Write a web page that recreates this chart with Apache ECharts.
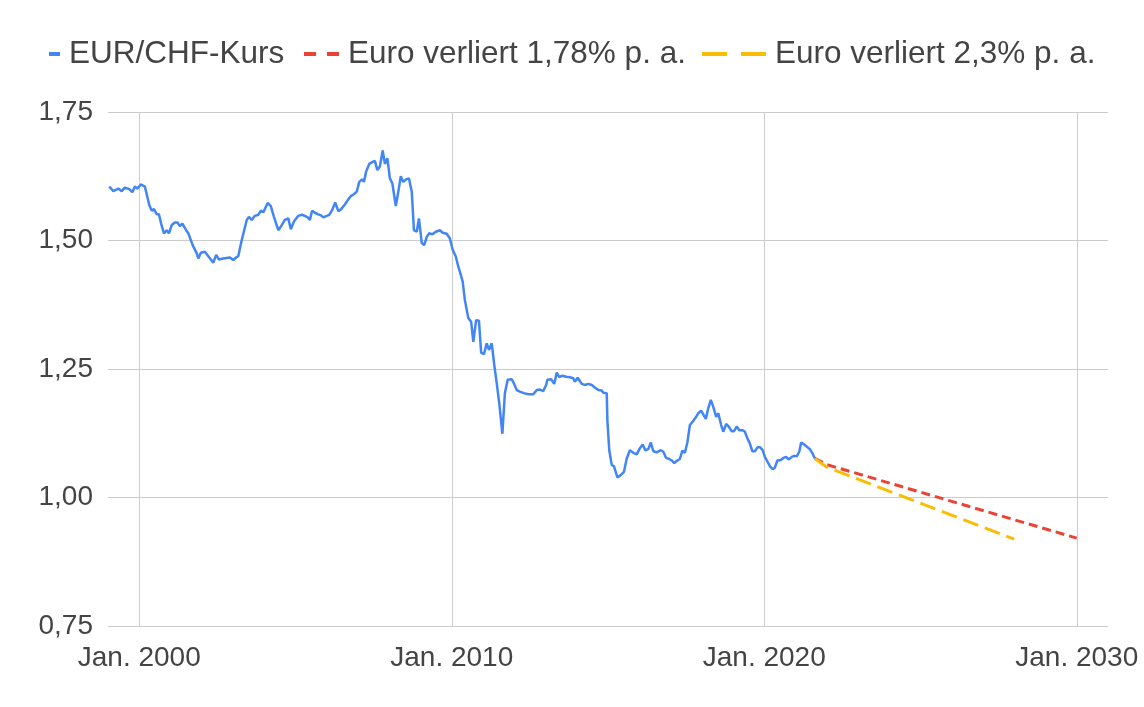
<!DOCTYPE html>
<html>
<head>
<meta charset="utf-8">
<script src="https://cdn.jsdelivr.net/npm/echarts@6/dist/echarts.min.js"></script>
<style>
html,body{margin:0;padding:0;background:#fff;}
#chart{width:1144px;height:707px;}
</style>
</head>
<body>
<div id="chart"></div>
<script>
// ---- data ----
const xTickYears = [2000, 2010, 2020, 2030];
const yTicks = [0.75, 1.00, 1.25, 1.50, 1.75];

const seriesNames = ['EUR/CHF-Kurs', 'Euro verliert 1,78% p. a.', 'Euro verliert 2,3% p. a.'];

// EUR/CHF (decimal years)
const kursYears = [
 1999.04,1999.17,1999.33,1999.44,1999.54,1999.68,1999.78,1999.86,1999.94,2000.05,
 2000.18,2000.32,2000.40,2000.47,2000.56,2000.63,2000.70,2000.79,2000.88,2000.95,
 2001.04,2001.14,2001.22,2001.30,2001.38,2001.50,2001.57,2001.62,2001.71,2001.84,
 2001.89,2001.97,2002.10,2002.16,2002.24,2002.37,2002.46,2002.55,2002.69,2002.90,
 2003.01,2003.10,2003.17,2003.28,2003.44,2003.51,2003.60,2003.70,2003.81,2003.89,
 2003.97,2004.11,2004.21,2004.31,2004.45,2004.56,2004.66,2004.77,2004.85,2004.95,
 2005.09,2005.20,2005.30,2005.39,2005.46,2005.53,2005.62,2005.73,2005.81,2005.89,
 2006.00,2006.08,2006.17,2006.27,2006.37,2006.46,2006.58,2006.69,2006.78,2006.87,
 2006.96,2007.04,2007.14,2007.19,2007.26,2007.36,2007.47,2007.54,2007.62,2007.70,
 2007.79,2007.86,2007.94,2008.02,2008.10,2008.21,2008.29,2008.37,2008.45,2008.54,
 2008.63,2008.72,2008.79,2008.88,2008.95,2009.04,2009.12,2009.20,2009.28,2009.38,
 2009.49,2009.62,2009.71,2009.84,2009.94,2010.03,2010.13,2010.21,2010.29,2010.35,
 2010.42,2010.53,2010.62,2010.69,2010.78,2010.87,2010.94,2011.03,2011.12,2011.19,
 2011.28,2011.36,2011.44,2011.52,2011.62,2011.70,2011.79,2011.92,2011.99,2012.08,
 2012.18,2012.31,2012.45,2012.61,2012.72,2012.82,2012.93,2013.02,2013.06,2013.18,
 2013.28,2013.36,2013.44,2013.54,2013.66,2013.78,2013.89,2013.94,2014.03,2014.16,
 2014.26,2014.37,2014.48,2014.58,2014.69,2014.80,2014.85,2014.96,2014.98,2015.04,
 2015.12,2015.19,2015.30,2015.38,2015.51,2015.60,2015.70,2015.81,2015.92,2016.02,
 2016.11,2016.19,2016.29,2016.37,2016.45,2016.56,2016.69,2016.77,2016.86,2016.96,
 2017.04,2017.12,2017.22,2017.30,2017.38,2017.46,2017.54,2017.62,2017.73,2017.82,
 2017.89,2017.98,2018.03,2018.13,2018.21,2018.29,2018.37,2018.46,2018.53,2018.62,
 2018.69,2018.78,2018.85,2018.96,2019.03,2019.12,2019.20,2019.31,2019.38,2019.46,
 2019.54,2019.62,2019.70,2019.79,2019.86,2019.95,2020.02,2020.10,2020.18,2020.27,
 2020.34,2020.42,2020.53,2020.61,2020.70,2020.78,2020.88,2020.96,2021.04,2021.12,
 2021.18,2021.28,2021.38,2021.46,2021.55,2021.62
];
const kursValues = [
 1.605,1.596,1.601,1.596,1.603,1.600,1.594,1.605,1.601,1.609,
 1.605,1.569,1.558,1.561,1.551,1.551,1.533,1.514,1.520,1.514,
 1.530,1.535,1.535,1.528,1.533,1.520,1.514,1.514,1.491,1.475,
 1.465,1.476,1.478,1.477,1.467,1.457,1.472,1.463,1.465,1.467,
 1.462,1.467,1.470,1.501,1.540,1.546,1.540,1.548,1.550,1.558,
 1.555,1.573,1.567,1.546,1.520,1.530,1.540,1.543,1.522,1.537,
 1.548,1.550,1.548,1.545,1.540,1.558,1.554,1.551,1.549,1.545,
 1.548,1.550,1.559,1.574,1.557,1.561,1.570,1.580,1.587,1.590,
 1.595,1.614,1.619,1.614,1.634,1.649,1.653,1.655,1.637,1.644,
 1.675,1.649,1.660,1.621,1.611,1.567,1.595,1.625,1.614,1.619,
 1.621,1.595,1.520,1.517,1.543,1.495,1.491,1.507,1.514,1.512,
 1.517,1.520,1.515,1.513,1.504,1.482,1.469,1.449,1.433,1.420,
 1.384,1.349,1.342,1.303,1.345,1.344,1.282,1.279,1.300,1.287,
 1.300,1.258,1.222,1.183,1.124,1.203,1.229,1.230,1.222,1.209,
 1.206,1.203,1.201,1.201,1.209,1.210,1.207,1.219,1.229,1.230,
 1.221,1.243,1.234,1.237,1.235,1.234,1.232,1.225,1.233,1.221,
 1.219,1.221,1.219,1.214,1.209,1.208,1.204,1.203,1.150,1.092,
 1.063,1.061,1.039,1.042,1.050,1.076,1.092,1.087,1.084,1.096,
 1.103,1.092,1.094,1.107,1.090,1.088,1.092,1.089,1.077,1.075,
 1.072,1.067,1.072,1.075,1.091,1.087,1.107,1.141,1.149,1.157,
 1.164,1.169,1.171,1.153,1.174,1.190,1.176,1.157,1.164,1.141,
 1.128,1.143,1.139,1.129,1.129,1.138,1.131,1.131,1.128,1.115,
 1.105,1.090,1.090,1.098,1.098,1.092,1.079,1.070,1.061,1.055,
 1.058,1.072,1.073,1.077,1.079,1.074,1.079,1.081,1.080,1.089,
 1.107,1.103,1.098,1.094,1.085,1.076
];

// Projections
const redYears = [2021.62, 2022.0, 2030.0];
const redValues = [1.076, 1.064, 0.921];
const yellowYears = [2021.62, 2022.0, 2028.0];
const yellowValues = [1.076, 1.059, 0.919];

// ---- chart ----
const zip = (xs, ys) => xs.map((x, i) => [x, ys[i]]);
const FONT = '"Liberation Sans", Arial, sans-serif';
const TEXT = '#444444';
const GRID = '#cccccc';
const BLUE = '#4285F4', RED = '#EA4335', YELLOW = '#FBBC04';

const chart = echarts.init(document.getElementById('chart'), null, {renderer: 'canvas'});

const legendBase = {
  top: 38, padding: 0, itemHeight: 4, selectedMode: false,
  itemStyle: {borderWidth: 0},
  textStyle: {fontSize: 31.5, color: TEXT, fontFamily: FONT, padding: [0, 0, 0, 4]}
};

chart.setOption({
  animation: false,
  backgroundColor: '#ffffff',
  textStyle: {fontFamily: FONT},
  legend: [
    Object.assign({}, legendBase, {left: 49, itemWidth: 11, data: [{name: seriesNames[0], icon: 'rect'}]}),
    Object.assign({}, legendBase, {left: 304, itemWidth: 35, data: [{name: seriesNames[1], icon: 'path://M0,0H12V4H0Z M23,0H35V4H23Z'}]}),
    Object.assign({}, legendBase, {left: 702, itemWidth: 64, data: [{name: seriesNames[2], icon: 'path://M0,0H25V4H0Z M39,0H64V4H39Z'}]})
  ],
  grid: {left: 108, right: 36, top: 112, bottom: 81, containLabel: false},
  xAxis: {
    type: 'value', min: 1999, max: 2031,
    axisLine: {show: false},
    axisTick: {show: false, customValues: xTickYears},
    axisLabel: {
      customValues: xTickYears,
      formatter: v => 'Jan. ' + Math.round(v),
      fontSize: 28, color: TEXT, fontFamily: FONT, margin: 18
    },
    splitLine: {show: true, lineStyle: {color: GRID, width: 1}}
  },
  yAxis: {
    type: 'value', min: yTicks[0], max: yTicks[yTicks.length - 1], interval: 0.25,
    axisLine: {show: false}, axisTick: {show: false},
    axisLabel: {
      formatter: v => v.toFixed(2).replace('.', ','),
      fontSize: 28, color: TEXT, fontFamily: FONT, margin: 15,
      padding: [3, 0, 0, 0]
    },
    splitLine: {show: true, lineStyle: {color: GRID, width: 1}}
  },
  series: [
    {
      name: seriesNames[0], type: 'line', data: zip(kursYears, kursValues),
      showSymbol: false, symbol: 'none', color: BLUE,
      lineStyle: {color: BLUE, width: 2.5}, z: 3
    },
    {
      name: seriesNames[1], type: 'line', data: zip(redYears, redValues),
      showSymbol: false, symbol: 'none', color: RED,
      lineStyle: {color: RED, width: 3, type: [9, 5]}, z: 2
    },
    {
      name: seriesNames[2], type: 'line', data: zip(yellowYears, yellowValues),
      showSymbol: false, symbol: 'none', color: YELLOW,
      lineStyle: {color: YELLOW, width: 3, type: [16, 7]}, z: 2
    }
  ]
});
</script>
</body>
</html>
